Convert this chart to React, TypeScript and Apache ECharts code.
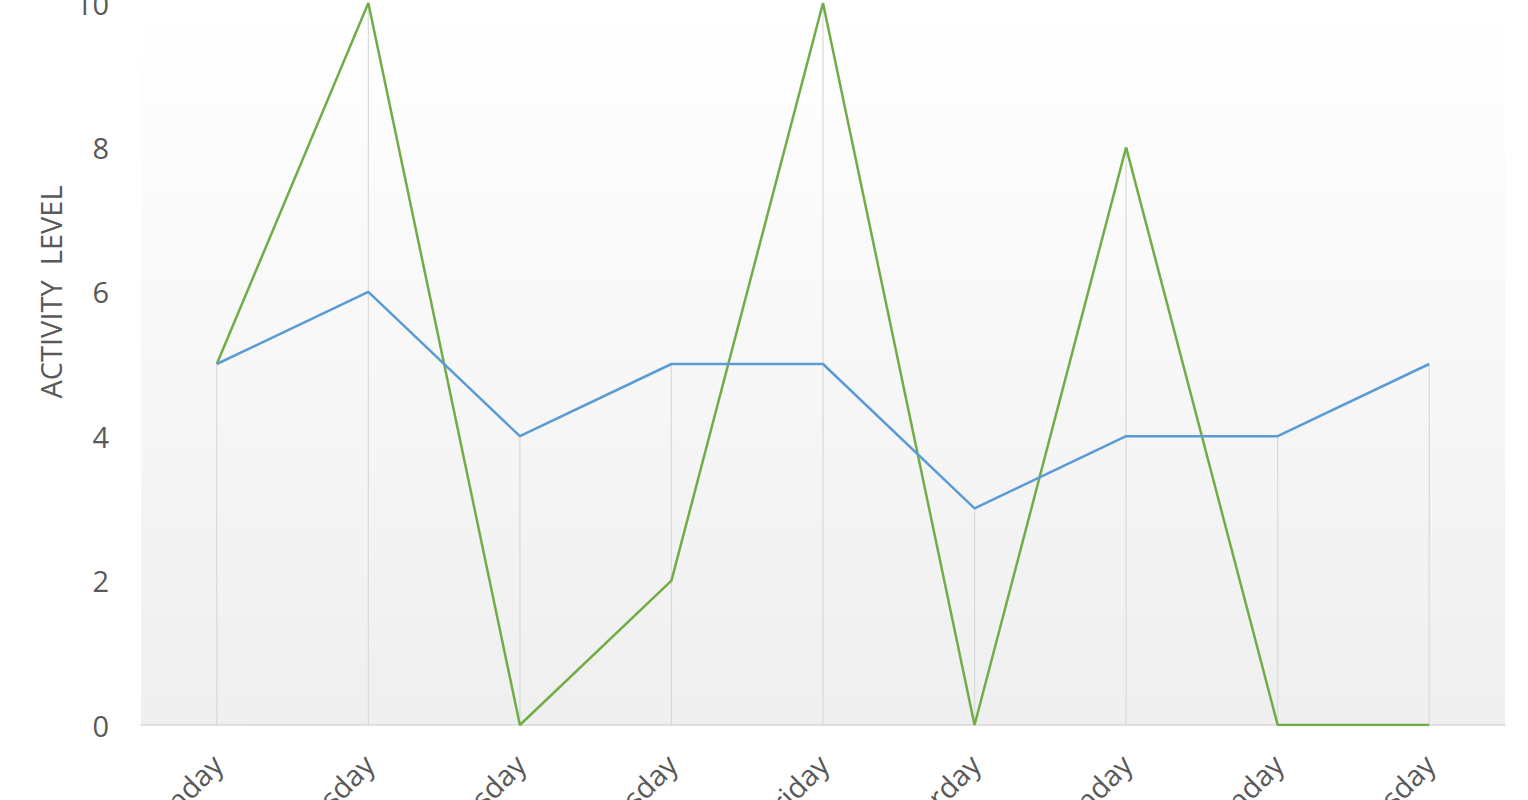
import React, { useEffect, useRef } from "react";
import * as echarts from "echarts";

const categories = ["Monday", "Tuesday", "Wednesday", "Thursday", "Friday", "Saturday", "Sunday", "Monday", "Tuesday"];
const seriesA = [5, 6, 4, 5, 5, 3, 4, 4, 5];
const seriesB = [5, 10, 0, 2, 10, 0, 8, 0, 0];
const yTicks = [0, 2, 4, 6, 8, 10];

export default function App() {
  const ref = useRef<HTMLDivElement>(null);
  useEffect(() => {
    const chart = echarts.init(ref.current!, null, { renderer: "svg" });
    const dropData = categories.map((_, i) => [i, Math.max(seriesA[i], seriesB[i])]);
    chart.setOption({
      animation: false,
      backgroundColor: "#ffffff",
      grid: {
        left: 141,
        right: 23,
        top: 3,
        bottom: 75,
        outerBoundsMode: "none",
        containLabel: false,
        show: true,
        borderWidth: 0,
        backgroundColor: new echarts.graphic.LinearGradient(0, 0, 0, 1, [
          { offset: 0, color: "#ffffff" },
          { offset: 1, color: "#efefef" },
        ]),
      },
      xAxis: {
        type: "category",
        data: categories,
        boundaryGap: true,
        axisLine: { show: true, lineStyle: { color: "#d9d9d9", width: 1.5 } },
        axisTick: { show: false },
        axisLabel: {
          rotate: 45,
          fontSize: 29,
          color: "#595959",
          fontFamily: "Open Sans",
          margin: 34,
          interval: 0,
        },
        splitLine: { show: false },
      },
      yAxis: {
        type: "value",
        min: 0,
        max: 10,
        interval: 2,
        axisLine: { show: false },
        axisTick: { show: false },
        splitLine: { show: false },
        axisLabel: {
          fontSize: 29,
          color: "#595959",
          fontFamily: "Open Sans",
          margin: 32,
          formatter: (v: number) => (yTicks.includes(v) ? String(v) : ""),
        },
      },
      graphic: [
        {
          type: "text",
          x: 50,
          y: 292,
          rotation: Math.PI / 2,
          style: {
            text: "ACTIVITY  LEVEL",
            fontSize: 29,
            fill: "#595959",
            fontFamily: "Open Sans",
            align: "center",
            verticalAlign: "middle",
          },
        },
      ],
      series: [
        {
          type: "custom",
          data: dropData,
          z: 1,
          renderItem: (params: any, api: any) => {
            const top = api.coord([api.value(0), api.value(1)]);
            const bottom = api.coord([api.value(0), 0]);
            return {
              type: "line",
              shape: { x1: top[0], y1: top[1], x2: bottom[0], y2: bottom[1] },
              style: { stroke: "#d9d9d9", lineWidth: 1.2 },
            };
          },
        },
        {
          type: "line",
          data: seriesA,
          symbol: "none",
          z: 3,
          lineStyle: { color: "#5b9bd5", width: 2.5 },
        },
        {
          type: "line",
          data: seriesB,
          symbol: "none",
          z: 2,
          lineStyle: { color: "#70ad47", width: 2.5 },
        },
      ],
    });
    return () => chart.dispose();
  }, []);
  return (
    <div
      ref={ref}
      style={{ position: "absolute", left: 0, top: 0, width: 1528, height: 800 }}
    />
  );
}
